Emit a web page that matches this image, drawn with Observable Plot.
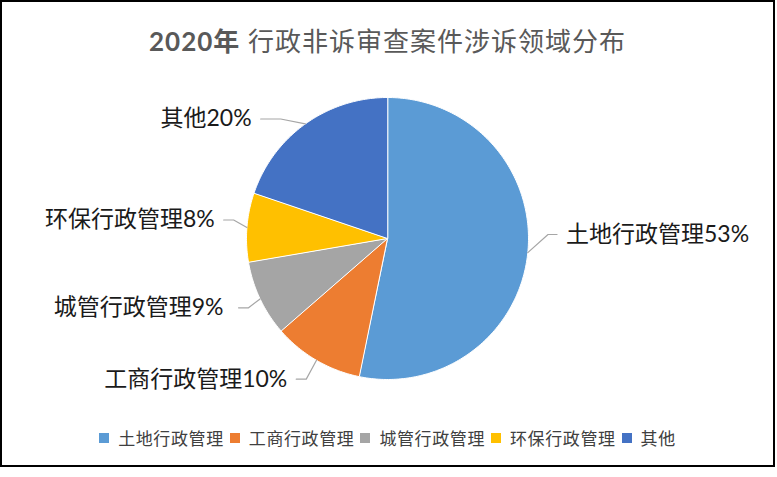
<!DOCTYPE html>
<html>
<head>
<meta charset="utf-8">
<script src="https://cdn.jsdelivr.net/npm/d3@7"></script>
<script src="https://cdn.jsdelivr.net/npm/@observablehq/plot@0.6"></script>
<style>
  html, body { margin: 0; padding: 0; background: #fff; }
  body { position: relative; width: 777px; height: 477px; overflow: hidden; font-family: Lato, "Noto Sans CJK SC", sans-serif; }
  #frame { position: absolute; left: 0; top: 0; width: 775px; height: 467px; box-sizing: border-box; border: 2px solid #000; }
  #title { position: absolute; left: 0; top: 26px; width: 775px; text-align: center; font-size: 26px; line-height: 30px; color: #595959; letter-spacing: 1px; white-space: nowrap; }
  #title b { font-weight: 700; }
  #chart { position: absolute; left: 0; top: 0; }
  #legend { position: absolute; left: 0; top: 425px; width: 775px; display: flex; justify-content: center; align-items: center; font-size: 17px; color: #404040; letter-spacing: 0.6px; white-space: nowrap; }
  #legend .item { display: flex; align-items: center; margin: 0 3px; }
  #legend .sw { width: 10px; height: 10px; margin-right: 9px; }
  svg text.lbl { letter-spacing: 1.8px; }
</style>
</head>
<body>
<div id="frame"></div>
<div id="chart"></div>
<div id="title"><b>2020年</b> 行政非诉审查案件涉诉领域分布</div>
<div id="legend"></div>
<script>
// ---- data ----
const categories = ["土地行政管理", "工商行政管理", "城管行政管理", "环保行政管理", "其他"];
const shares = [53.2, 10.4, 8.7, 7.9, 19.8];
const colors = ["#5B9BD5", "#ED7D31", "#A5A5A5", "#FFC000", "#4472C4"];
const titleText = "2020年 行政非诉审查案件涉诉领域分布";

// ---- layout ----
const W = 777, H = 470, CX = 387, CY = 238, R = 141;
const px = v => v / R; // pixels -> radius units

const pie = d3.pie().sort(null).value(d => d.value)(categories.map((name, i) => ({name, value: shares[i]})));
const total = d3.sum(shares);

// slice outlines (sampled along each arc)
const slicePts = [];
pie.forEach(p => {
  const name = p.data.name;
  slicePts.push({name, x: 0, y: 0});
  const n = Math.max(2, Math.ceil((p.endAngle - p.startAngle) / (Math.PI / 180)));
  for (let k = 0; k <= n; k++) {
    const a = p.startAngle + (p.endAngle - p.startAngle) * k / n;
    slicePts.push({name, x: Math.sin(a), y: Math.cos(a)});
  }
});

// label leader layout adjustments (pixels)
const adj = {
  "土地行政管理": {dx: 2, dy: -20, h: 9},
  "工商行政管理": {dx: -1, dy: 3, h: 10},
  "城管行政管理": {dx: 5, dy: 1, h: 10, g: 15},
  "环保行政管理": {dx: 5, dy: -6, h: 10},
  "其他": {dx: -14, dy: 10, h: 20}
};
const leaderPts = [];
const labels = [];
pie.forEach(p => {
  const name = p.data.name;
  const m = (p.startAngle + p.endAngle) / 2;
  const right = Math.sin(m) >= 0;
  const a = adj[name];
  const p0 = {x: Math.sin(m), y: Math.cos(m)};
  const p1 = {x: Math.sin(m) * 1.13 + px(a.dx), y: Math.cos(m) * 1.13 - px(a.dy)};
  const p2 = {x: p1.x + (right ? 1 : -1) * px(a.h), y: p1.y};
  leaderPts.push({name, ...p0}, {name, ...p1}, {name, ...p2});
  labels.push({
    name,
    x: p2.x + (right ? 1 : -1) * px(a.g || 9),
    y: p2.y,
    anchor: right ? "start" : "end",
    text: name + Math.round(p.data.value / total * 100) + "%"
  });
});

const chart = Plot.plot({
  width: W,
  height: H,
  margin: 0,
  x: {domain: [px(-CX), px(W - CX)], axis: null},
  y: {domain: [px(CY - H), px(CY)], axis: null},
  color: {domain: categories, range: colors},
  style: {background: "transparent", overflow: "visible"},
  marks: [
    Plot.line(slicePts, {x: "x", y: "y", z: "name", fill: "name", stroke: "#fff", strokeWidth: 1, curve: "linear-closed"}),
    Plot.line(leaderPts, {x: "x", y: "y", z: "name", stroke: "#A6A6A6", strokeWidth: 1.2}),
    Plot.text(labels.filter(d => d.anchor === "start"), {x: "x", y: "y", text: "text", textAnchor: "start", fontSize: 23, fill: "#1a1a1a", className: "lbl", fontFamily: "Lato, 'Noto Sans CJK SC', sans-serif"}),
    Plot.text(labels.filter(d => d.anchor === "end"), {x: "x", y: "y", text: "text", textAnchor: "end", fontSize: 23, fill: "#1a1a1a", className: "lbl", fontFamily: "Lato, 'Noto Sans CJK SC', sans-serif"})
  ]
});
document.getElementById("chart").appendChild(chart);

// legend
const lg = document.getElementById("legend");
categories.forEach((c, i) => {
  const it = document.createElement("div");
  it.className = "item";
  const sw = document.createElement("span");
  sw.className = "sw";
  sw.style.background = colors[i];
  const t = document.createElement("span");
  t.textContent = c;
  it.appendChild(sw); it.appendChild(t);
  lg.appendChild(it);
});
</script>
</body>
</html>
